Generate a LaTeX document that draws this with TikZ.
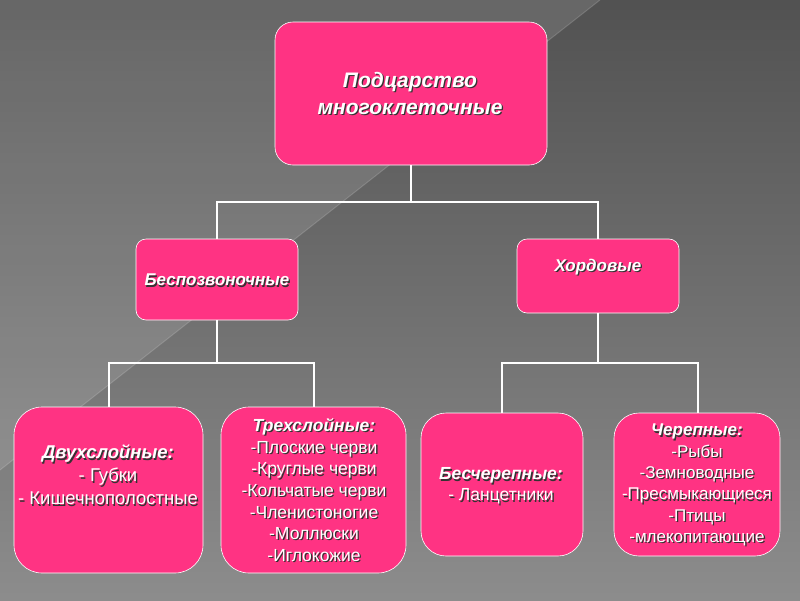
\documentclass[tikz,border=0pt]{standalone}
\usepackage{fontspec}
\setmainfont{Liberation Sans}
\definecolor{pinkbox}{HTML}{FF3383}
\newcommand\shlbl[3]{%
  \node[text=black!80,align=center,font=#2] at ([xshift=1.3pt,yshift=-1.3pt]#1) {#3};
  \node[text=white,align=center,font=#2] at (#1) {#3};}
\begin{document}
\begin{tikzpicture}[x=1pt,y=-1pt,
  box/.style={draw=white,line width=0.6pt,fill=pinkbox,rounded corners=18pt,inner sep=0pt},
  conn/.style={draw=white,line width=1.5pt}]
\useasboundingbox (0,0) rectangle (800,600);
\shade[top color=black!68,bottom color=black!45] (0,0) rectangle (800,600);
\fill[white,opacity=0.12] (0,0) -- (600,0) -- (0,470) -- cycle;
\draw[white,opacity=0.15,line width=1pt] (600,0) -- (0,470);
% boxes
\node[box,minimum width=272pt,minimum height=143pt] (top) at (411,93.5) {};
\node[box,minimum width=162pt,minimum height=81pt,rounded corners=10pt] (bes) at (217,279.5) {};
\node[box,minimum width=162pt,minimum height=74pt,rounded corners=10pt] (hor) at (598,276) {};
\node[box,minimum width=189pt,minimum height=166pt,rounded corners=28pt] (dvu) at (108.5,490) {};
\node[box,minimum width=185pt,minimum height=166pt,rounded corners=28pt] (tre) at (313.5,490) {};
\node[box,minimum width=162pt,minimum height=143pt,rounded corners=25pt] (bch) at (502,484.5) {};
\node[box,minimum width=166pt,minimum height=143pt,rounded corners=25pt] (chr) at (697,484.5) {};
% connectors
\coordinate (j1) at (411,202);
\coordinate (j2) at (217,363);
\coordinate (j3) at (598,363);
\draw[conn] (top.south) -- (j1);
\draw[conn] (j1) -| (bes.north);
\draw[conn] (j1) -| (hor.north);
\draw[conn] (bes.south) -- (j2);
\draw[conn] (j2) -| (dvu.north -| 109,0);
\draw[conn] (j2) -| (tre.north -| 314,0);
\draw[conn] (hor.south) -- (j3);
\draw[conn] (j3) -| (bch.north);
\draw[conn] (j3) -| (chr.north -| 698,0);
% labels
\shlbl{410,93}{\fontsize{21}{27}\selectfont\bfseries\itshape}{Подцарство\\многоклеточные}
\shlbl{217,280}{\fontsize{17}{20}\selectfont\bfseries\itshape}{Беспозвоночные}
\shlbl{598,267}{\fontsize{17}{20}\selectfont\bfseries\itshape}{Хордовые}
\shlbl{108,475}{\fontsize{18.5}{23}\selectfont}{\textbf{\textit{Двухслойные:}}\\- Губки\\- Кишечнополостные}
\shlbl{314,490}{\fontsize{17.5}{21.6}\selectfont}{\textbf{\textit{Трехслойные:}}\\-Плоские черви\\-Круглые черви\\-Кольчатые черви\\-Членистоногие\\-Моллюски\\-Иглокожие}
\shlbl{501,486}{\fontsize{17.5}{21}\selectfont}{\textbf{\textit{Бесчерепные:}}\\- Ланцетники}
\shlbl{697,485}{\fontsize{17}{21.3}\selectfont}{\textbf{\textit{Черепные:}}\\-Рыбы\\-Земноводные\\-Пресмыкающиеся\\-Птицы\\-млекопитающие}
\end{tikzpicture}
\end{document}
